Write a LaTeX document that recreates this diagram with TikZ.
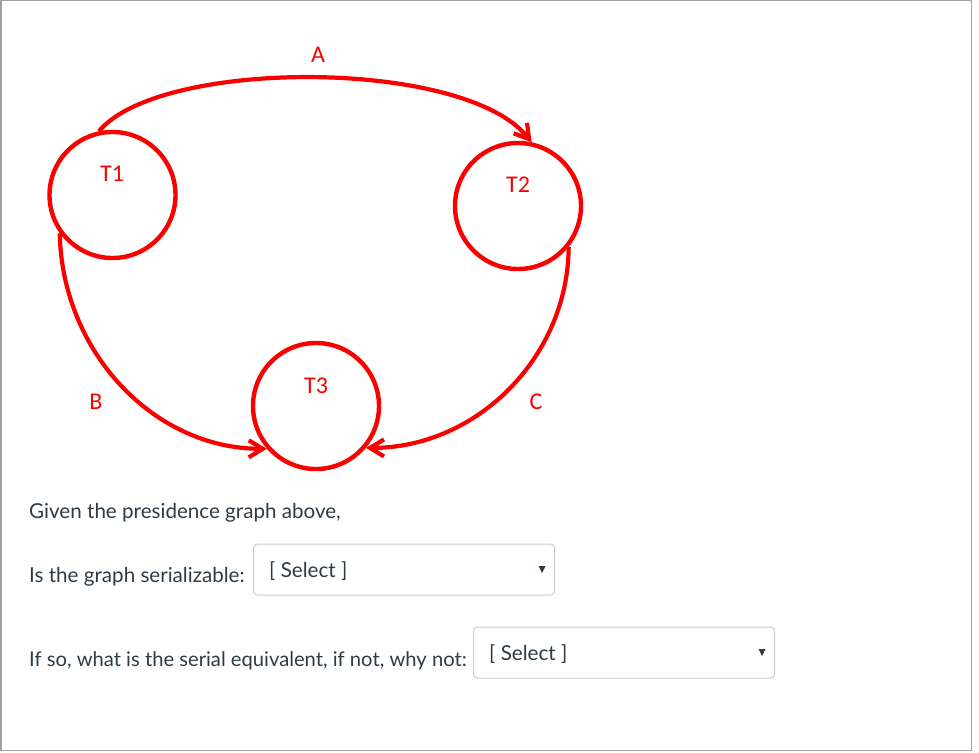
\documentclass[tikz,border=0pt]{standalone}
\usepackage{fontspec}
\setmainfont{Lato}
\newfontfamily\calib{Carlito}
\usetikzlibrary{arrows.meta}
\definecolor{gred}{RGB}{250,0,0}
\definecolor{txt}{HTML}{2D3B45}
\definecolor{framec}{HTML}{A0A0A0}
\definecolor{selb}{HTML}{C7CDD1}
\begin{document}
\begin{tikzpicture}[x=1pt,y=-1pt,
  tnode/.style={circle,draw=gred,line width=4.4pt,minimum size=126pt,inner sep=0pt},
  tlabel/.style={text=gred,font=\calib\fontsize{24}{24}\selectfont,inner sep=0pt},
  edge/.style={draw=gred,line width=4.2pt,-{Straight Barb[length=14pt,width=17pt]}},
  qtext/.style={text=txt,font=\fontsize{20.6}{20.6}\selectfont,inner sep=0pt,anchor=base west},
  selbox/.style={draw=selb,line width=1pt,rounded corners=4pt,fill=white,minimum width=301pt,minimum height=51pt,anchor=north west,inner sep=0pt},
  seltext/.style={text=txt,font=\fontsize{20.6}{20.6}\selectfont,inner sep=0pt,anchor=base west},
]
\useasboundingbox (0,0) rectangle (979,752);
\draw[framec,line width=1.5pt] (0.75,0.75) rectangle (971.25,750.25);

\node[tnode] (T1) at (112.5,195) {};
\node[tnode] (T2) at (518,206) {};
\node[tnode] (T3) at (316,406) {};
\node[tlabel] (t1) at (112,174) {T1};
\node[tlabel] (t2) at (518,185) {T2};
\node[tlabel] (t3) at (316,386) {T3};

\draw[edge] (T1.102) .. controls (160,58) and (465,58) .. (T2.78);
\draw[edge] (T1.216) .. controls (62,352) and (154,449) .. (T3.221);
\draw[edge] (T2.321) .. controls (568,357) and (477,448) .. (T3.320);

\node[tlabel] (lA) at (318,55) {A};
\node[tlabel] (lB) at (96,402) {B};
\node[tlabel] (lC) at (536,402) {C};

\node[qtext] (q1) at (29,518) {Given the presidence graph above,};
\node[qtext] (q2) at (29,582) {Is the graph serializable:};
\node[qtext,font=\fontsize{20.2}{20.2}\selectfont] (q3) at (29,666) {If so, what is the serial equivalent, if not, why not:};

\node[selbox] (S1) at (253,543.5) {};
\node[seltext] (s1) at (269,577) {[ Select ]};
\fill[txt] (538.5,566) -- (545.5,566) -- (542,573) -- cycle;

\node[selbox] (S2) at (473,626.5) {};
\node[seltext] (s2) at (489,660) {[ Select ]};
\fill[txt] (758.5,649) -- (765.5,649) -- (762,656) -- cycle;
\end{tikzpicture}
\end{document}
